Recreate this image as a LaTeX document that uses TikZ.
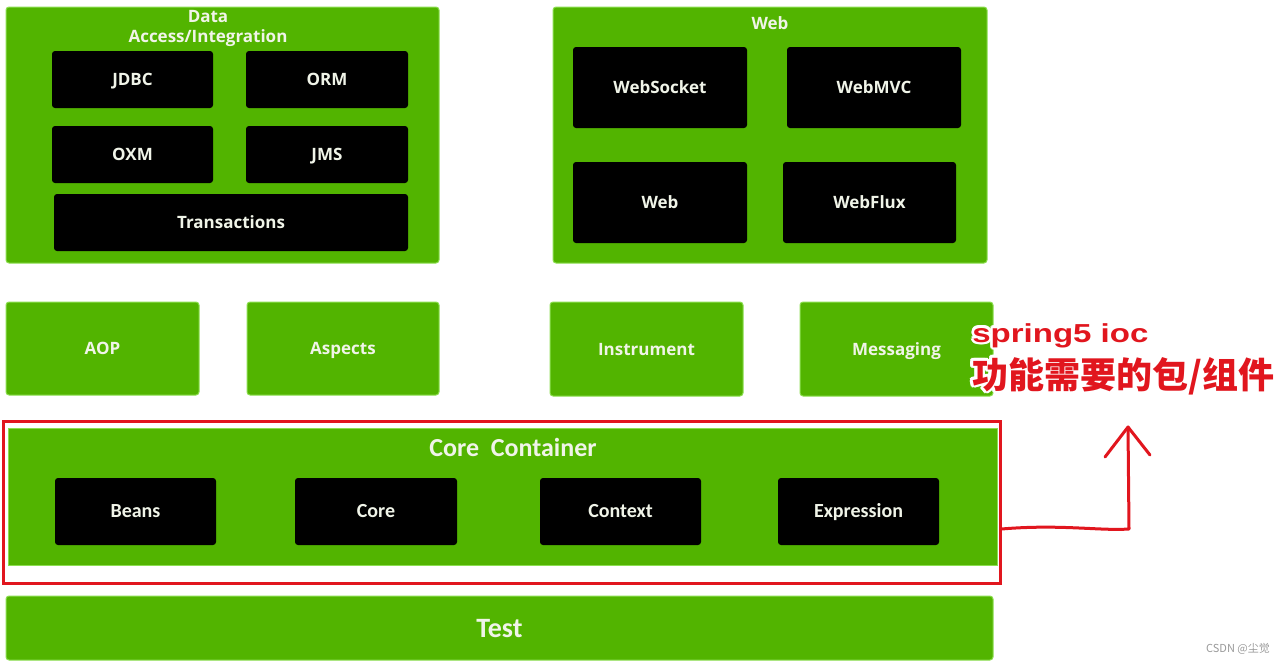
\documentclass[tikz,border=0pt]{standalone}
\usepackage{fontspec}
\setmainfont{Open Sans}
\newfontfamily\corefont{Carlito}
\newfontfamily\annofont{Liberation Sans}
\newfontfamily\cjk{Noto Sans CJK SC}
\definecolor{springgreen}{RGB}{82,180,0}
\definecolor{springedge}{RGB}{140,222,80}
\definecolor{labeltext}{RGB}{240,244,232}
\definecolor{markred}{RGB}{225,22,30}

\begin{document}
\begin{tikzpicture}[x=1pt,y=-1pt,
  layer/.style={fill=springgreen, draw=springedge, line width=1pt, rounded corners=3pt, inner sep=0pt, text=labeltext, text height=12.2pt, text depth=0pt, font=\bfseries\fontsize{17}{20}\selectfont},
  module/.style={fill=black, rounded corners=3pt, inner sep=0pt, text=labeltext, text height=12.2pt, text depth=0pt, font=\bfseries\fontsize{17}{20}\selectfont},
  coremodule/.style={module, text height=12.9pt, font=\corefont\bfseries\fontsize{20}{24}\selectfont},
  title/.style={text=labeltext, inner sep=0pt, align=center, font=\bfseries\fontsize{17}{20}\selectfont},
  annoline/.style={inner sep=0pt, anchor=base west}]
\useasboundingbox (0,0) rectangle (1287,665);
% data access / integration
\node[layer, minimum width=433pt, minimum height=256pt] (dataaccess) at (222.5,135) {};
\node[title] (datatitle) at (208,28) {Data\\Access/Integration};
\node[module, minimum width=161pt, minimum height=57pt] (jdbc) at (132.5,79.5) {JDBC};
\node[module, minimum width=162pt, minimum height=57pt] (orm) at (327,79.5) {ORM};
\node[module, minimum width=161pt, minimum height=57pt] (oxm) at (132.5,154.5) {OXM};
\node[module, minimum width=162pt, minimum height=57pt] (jms) at (327,154.5) {JMS};
\node[module, minimum width=354pt, minimum height=57pt] (transactions) at (231,222.5) {Transactions};
% web
\node[layer, minimum width=434pt, minimum height=256pt] (web) at (770,135) {};
\node[title] (webtitle) at (770,23) {Web};
\node[module, minimum width=174pt, minimum height=81pt] (websocket) at (660,87.5) {WebSocket};
\node[module, minimum width=174pt, minimum height=81pt] (webmvc) at (874,87.5) {WebMVC};
\node[module, minimum width=174pt, minimum height=81pt] (webmodule) at (660,202.5) {Web};
\node[module, minimum width=173pt, minimum height=81pt] (webflux) at (869.5,202.5) {WebFlux};
% middle row
\node[layer, minimum width=193pt, minimum height=93pt] (aop) at (102.5,348.5) {AOP};
\node[layer, minimum width=192pt, minimum height=93pt] (aspects) at (343,348.5) {Aspects};
\node[layer, minimum width=193pt, minimum height=94pt] (instrument) at (646.5,349) {Instrument};
\node[layer, minimum width=193pt, minimum height=94pt] (messaging) at (896.5,349) {Messaging};
% core container
\node[draw=markred, line width=3pt, minimum width=997pt, minimum height=162pt, inner sep=0pt] (corebox) at (501.5,502) {};
\node[layer, rounded corners=0pt, minimum width=989pt, minimum height=137pt] (corecontainer) at (502.5,496.5) {};
\node[title, text height=16.7pt, text depth=0pt, font=\corefont\bfseries\fontsize{26}{30}\selectfont] (coretitle) at (513,448) {Core\ \ Container};
\node[coremodule, minimum width=161pt, minimum height=67pt] (beans) at (135.5,511.5) {Beans};
\node[coremodule, minimum width=162pt, minimum height=67pt] (core) at (376,511.5) {Core};
\node[coremodule, minimum width=161pt, minimum height=67pt] (context) at (620.5,511.5) {Context};
\node[coremodule, minimum width=161pt, minimum height=67pt] (expression) at (858.5,511.5) {Expression};
% test
\node[layer, minimum width=987pt, minimum height=64pt, text height=18pt, font=\corefont\bfseries\fontsize{28}{32}\selectfont] (test) at (499.5,628) {Test};
% hand drawn arrow
\coordinate (bend) at (1129,529);
\coordinate (tip) at (1128,427);
\draw[markred, line width=3pt, line cap=round, line join=round]
  (corebox.east |- bend) .. controls (1060,524) and (1100,531) .. (bend) -- (tip);
\draw[markred, line width=3pt, line cap=round, line join=round]
  (1105,457) -- (tip) -- (1150,455);
% annotation
\foreach \a in {0,30,...,330} {
  \node[annoline, text=white, shift={(\a:2.6pt)}, font=\annofont\bfseries\fontsize{26}{30}\selectfont, xscale=1.27] (springhalo\a) at (972,342) {spring5 ioc};
  \node[annoline, text=white, shift={(\a:2.6pt)}, font=\cjk\bfseries\fontsize{36}{40}\selectfont] (cjkhalo\a) at (972,388) {功能需要的包/组件};
}
\node[annoline, text=markred, font=\annofont\bfseries\fontsize{26}{30}\selectfont, xscale=1.27] (springlabel) at (972,342) {spring5 ioc};
\node[annoline, text=markred, font=\cjk\bfseries\fontsize{36}{40}\selectfont] (cjklabel) at (972,388) {功能需要的包/组件};
% watermark
\node[inner sep=0pt, text=gray!80, font=\cjk\fontsize{11}{13}\selectfont] (watermark) at (1238,649) {CSDN @尘觉};
\end{tikzpicture}
\end{document}
